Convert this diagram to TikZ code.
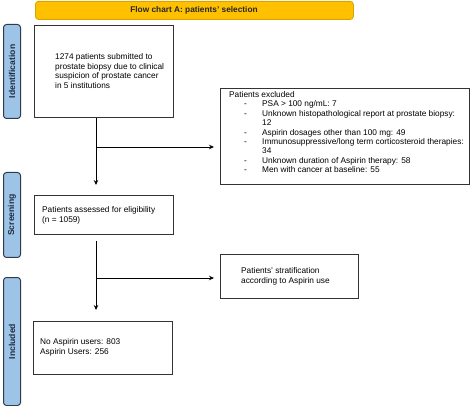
\documentclass[tikz,border=0pt]{standalone}
\usepackage{fontspec}
\setmainfont{Liberation Sans}
\usetikzlibrary{arrows.meta}
\definecolor{banner}{HTML}{FFC000}
\definecolor{bannerline}{HTML}{D9A300}
\definecolor{sidefill}{HTML}{9DC3E6}
\definecolor{sideline}{HTML}{2E3B4E}
\definecolor{sidetext}{HTML}{1F2D45}
\definecolor{boxline}{HTML}{333333}
\newcommand\exitem[1]{\makebox[33pt][l]{\hspace*{15pt}-}#1}
\newcommand\excont[1]{\makebox[33pt][l]{}#1}
\begin{document}
\begin{tikzpicture}[x=1pt,y=-1pt,
  box/.style={draw=boxline,line width=0.9pt,fill=white,rectangle,anchor=north west,inner sep=0pt},
  txt/.style={anchor=west,align=left,inner sep=0pt,font=\fontsize{8.3pt}{9.45pt}\selectfont},
  side/.style={draw=sideline,line width=1pt,fill=sidefill,rounded corners=3pt,anchor=north west,inner sep=0pt,minimum width=17pt},
  sidelabel/.style={rotate=90,font=\fontsize{8.6pt}{9pt}\selectfont\bfseries,text=sidetext,inner sep=0pt},
  arr/.style={draw=black,line width=0.9pt,-{Stealth[length=5pt,width=4.5pt]}}]
\useasboundingbox (0,0) rectangle (474,406);
% banner
\node[draw=bannerline,line width=0.8pt,fill=banner,rounded corners=3pt,anchor=north west,minimum width=318pt,minimum height=18pt,inner sep=0pt] (title) at (35,1) {};
\node[font=\fontsize{8.3pt}{9pt}\selectfont\bfseries,text=black!85,inner sep=0pt] (titletext) at (194,10.5) {Flow chart A: patients’ selection};
% side labels
\node[side,minimum height=94pt] (sid) at (3,24) {};
\node[sidelabel] (sidt) at (sid.center) {Identification};
\node[side,minimum height=85pt] (ssc) at (3,172) {};
\node[sidelabel] (ssct) at (ssc.center) {Screening};
\node[side,minimum height=128pt] (sin) at (3,277) {};
\node[sidelabel] (sint) at (sin.center) {Included};
% boxes
\node[box,minimum width=139pt,minimum height=92pt] (b1) at (34,25) {};
\node[txt] (b1t) at (55,71) {1274 patients submitted to\\prostate biopsy due to clinical\\suspicion of prostate cancer\\in 5 institutions};
\node[box,minimum width=249pt,minimum height=96pt] (ex) at (220,88) {};
\node[txt,anchor=north west] (ext) at (229,91) {Patients excluded\\
\exitem{PSA > 100 ng/mL: 7}\\
\exitem{Unknown histopathological report at prostate biopsy:}\\
\excont{12}\\
\exitem{Aspirin dosages other than 100 mg: 49}\\
\exitem{Immunosuppressive/long term corticosteroid therapies:}\\
\excont{34}\\
\exitem{Unknown duration of Aspirin therapy: 58}\\
\exitem{Men with cancer at baseline: 55}};
\node[box,minimum width=139pt,minimum height=39pt] (b2) at (34,195) {};
\node[txt] (b2t) at (42,215.5) {Patients assessed for eligibility\\(n = 1059)};
\node[box,minimum width=138pt,minimum height=44pt] (st) at (220,254) {};
\node[txt] (stt) at (241,276.5) {Patients’ stratification\\according to Aspirin use};
\node[box,minimum width=139pt,minimum height=53pt] (b3) at (33,321) {};
\node[txt] (b3t) at (40,347.5) {No Aspirin users: 803\\Aspirin Users: 256};
% connectors
\coordinate (j1) at (96,147);
\coordinate (j2) at (96,278);
\draw[arr,shorten >=10pt] (b1.south -| j1) -- (b2.north -| j1);
\draw[arr,shorten >=6pt] (j1) -- (ex.west |- j1);
\draw[arr,shorten <=6pt,shorten >=11pt] (b2.south -| j2) -- (b3.north -| j2);
\draw[arr,shorten >=6pt] (j2) -- (st.west |- j2);
\end{tikzpicture}
\end{document}
